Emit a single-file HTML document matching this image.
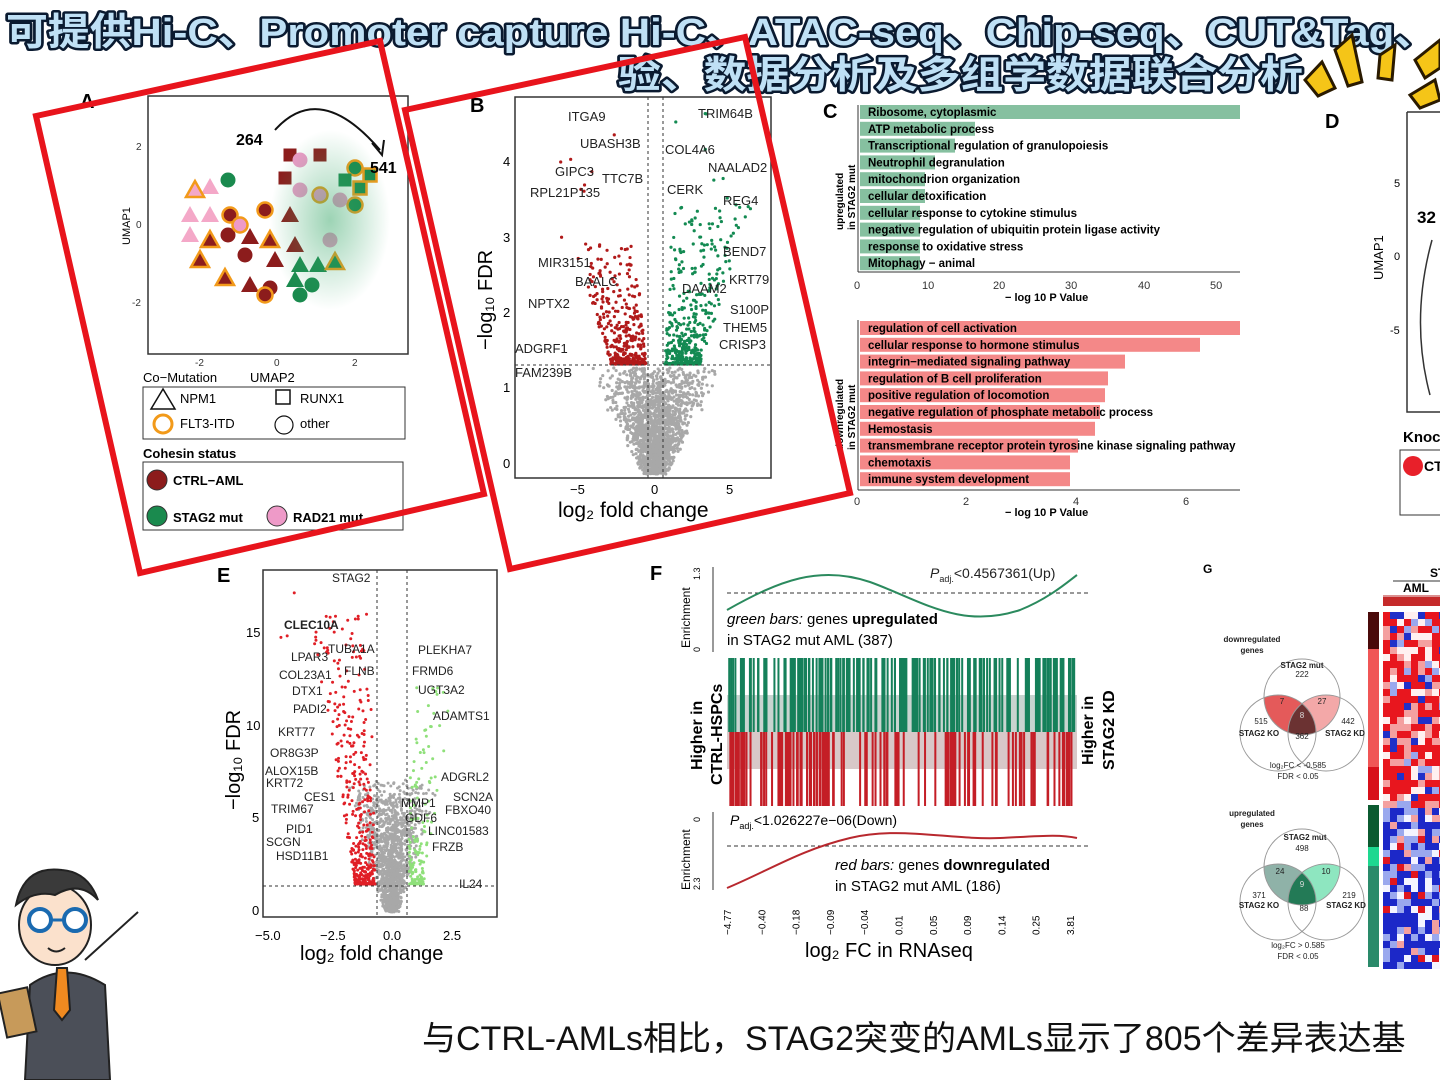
<!DOCTYPE html>
<html><head><meta charset="utf-8">
<style>
html,body{margin:0;padding:0;background:#fff;}
body{width:1440px;height:1080px;overflow:hidden;position:relative;font-family:"Liberation Sans","Noto Sans CJK SC",sans-serif;}
svg{position:absolute;left:0;top:0;}
</style></head><body>
<svg id="s" width="1440" height="1080" viewBox="0 0 1440 1080" xmlns="http://www.w3.org/2000/svg" font-family="Liberation Sans, Noto Sans CJK SC, sans-serif">
<defs>
<radialGradient id="gg" cx="0.5" cy="0.5" r="0.5"><stop offset="0" stop-color="#3aa86a" stop-opacity="0.5"/><stop offset="1" stop-color="#3aa86a" stop-opacity="0"/></radialGradient>
<clipPath id="m1"><circle cx="1302" cy="697" r="38"/></clipPath>
<clipPath id="ko1"><circle cx="1278" cy="733" r="38"/></clipPath>
<clipPath id="m2"><circle cx="1302" cy="867" r="38"/></clipPath>
<clipPath id="ko2"><circle cx="1278" cy="902" r="38"/></clipPath>
</defs>
<g id="pts"></g>

<!-- Panel A -->
<text x="80" y="108" font-size="20" font-weight="bold">A</text>
<rect x="148" y="96" width="260" height="258" fill="none" stroke="#333" stroke-width="1.5"/>
<ellipse cx="330" cy="220" rx="60" ry="90" fill="url(#gg)"/>
<path d="M275 130 Q320 80 380 150" fill="none" stroke="#111" stroke-width="2"/>
<path d="M372 143 L382 155 L384 140" fill="none" stroke="#111" stroke-width="2"/>
<text x="236" y="145" font-size="16" font-weight="bold">264</text>
<text x="370" y="173" font-size="16" font-weight="bold">541</text>
<text x="130" y="245" font-size="11" transform="rotate(-90 130 245)">UMAP1</text>
<g font-size="10" fill="#333"><text x="136" y="150">2</text><text x="136" y="228">0</text><text x="132" y="306">-2</text>
<text x="195" y="366">-2</text><text x="274" y="366">0</text><text x="352" y="366">2</text></g>
<text x="143" y="382" font-size="13">Co−Mutation</text><text x="250" y="382" font-size="13">UMAP2</text>
<rect x="143" y="387" width="262" height="52" fill="none" stroke="#333"/>
<polygon points="163,389 151,409 175,409" fill="none" stroke="#111" stroke-width="1.5"/>
<text x="180" y="403" font-size="13">NPM1</text>
<rect x="276" y="390" width="14" height="14" fill="none" stroke="#111" stroke-width="1.5"/><text x="300" y="403" font-size="13">RUNX1</text>
<circle cx="163" cy="424" r="9" fill="none" stroke="#f29a1a" stroke-width="3"/><text x="180" y="428" font-size="13">FLT3-ITD</text>
<circle cx="284" cy="425" r="9" fill="none" stroke="#111" stroke-width="1.2"/><text x="300" y="428" font-size="13">other</text>
<text x="143" y="458" font-size="13" font-weight="bold">Cohesin status</text>
<rect x="143" y="462" width="260" height="68" fill="none" stroke="#333"/>
<circle cx="157" cy="480" r="10" fill="#8c1c1c" stroke="#333"/><text x="173" y="485" font-size="13" font-weight="bold">CTRL−AML</text>
<circle cx="157" cy="516" r="10" fill="#1a8a4e" stroke="#333"/><text x="173" y="522" font-size="13" font-weight="bold">STAG2 mut</text>
<circle cx="277" cy="516" r="10" fill="#ee9ac8" stroke="#333"/><text x="293" y="522" font-size="13" font-weight="bold">RAD21 mut</text>

<!-- Panel B -->
<text x="470" y="112" font-size="20" font-weight="bold">B</text>
<rect x="515" y="97" width="256" height="381" fill="none" stroke="#333" stroke-width="1.5"/>
<line x1="648" y1="97" x2="648" y2="478" stroke="#333" stroke-dasharray="3,3"/>
<line x1="663" y1="97" x2="663" y2="478" stroke="#333" stroke-dasharray="3,3"/>
<line x1="515" y1="365" x2="771" y2="365" stroke="#333" stroke-dasharray="3,3"/>
<g font-size="13" fill="#222">
<text x="568" y="121">ITGA9</text><text x="698" y="118">TRIM64B</text><text x="580" y="148">UBASH3B</text><text x="665" y="154">COL4A6</text>
<text x="555" y="176">GIPC3</text><text x="708" y="172">NAALAD2</text><text x="602" y="183">TTC7B</text><text x="530" y="197">RPL21P135</text>
<text x="667" y="194">CERK</text><text x="723" y="205">REG4</text><text x="723" y="256">BEND7</text><text x="538" y="267">MIR3151</text>
<text x="575" y="286">BAALC</text><text x="729" y="284">KRT79</text><text x="682" y="293">DAAM2</text><text x="528" y="308">NPTX2</text>
<text x="730" y="314">S100P</text><text x="723" y="332">THEM5</text><text x="719" y="349">CRISP3</text><text x="515" y="353">ADGRF1</text><text x="515" y="377">FAM239B</text>
</g>
<g font-size="13"><text x="503" y="166">4</text><text x="503" y="242">3</text><text x="503" y="317">2</text><text x="503" y="392">1</text><text x="503" y="468">0</text>
<text x="570" y="494">−5</text><text x="651" y="494">0</text><text x="726" y="494">5</text></g>
<text x="492" y="350" font-size="20" transform="rotate(-90 492 350)">−log₁₀ FDR</text>
<text x="558" y="517" font-size="21">log₂ fold change</text>

<!-- Panel C -->
<text x="823" y="118" font-size="20" font-weight="bold">C</text>
<g id="cbars"></g>
<line x1="858" y1="105" x2="858" y2="272" stroke="#333"/><line x1="858" y1="272" x2="1240" y2="272" stroke="#333"/>
<line x1="858" y1="320" x2="858" y2="490" stroke="#333"/><line x1="858" y1="490" x2="1240" y2="490" stroke="#333"/>
<g font-size="11" fill="#333"><text x="854" y="289">0</text><text x="922" y="289">10</text><text x="993" y="289">20</text><text x="1065" y="289">30</text><text x="1138" y="289">40</text><text x="1210" y="289">50</text>
<text x="854" y="505">0</text><text x="963" y="505">2</text><text x="1073" y="505">4</text><text x="1183" y="505">6</text></g>
<text x="1005" y="301" font-size="11" font-weight="bold">− log 10 P Value</text>
<text x="1005" y="516" font-size="11" font-weight="bold">− log 10 P Value</text>
<text x="843" y="230" font-size="10" font-weight="bold" transform="rotate(-90 843 230)">upregulated</text>
<text x="855" y="230" font-size="10" font-weight="bold" transform="rotate(-90 855 230)">in STAG2 mut</text>
<text x="843" y="450" font-size="10" font-weight="bold" transform="rotate(-90 843 450)">downregulated</text>
<text x="855" y="450" font-size="10" font-weight="bold" transform="rotate(-90 855 450)">in STAG2 mut</text>

<!-- Panel D -->
<text x="1325" y="128" font-size="20" font-weight="bold">D</text>
<path d="M1407 112 L1440 112 M1407 112 L1407 412 L1440 412" fill="none" stroke="#333" stroke-width="1.5"/>
<text x="1383" y="280" font-size="13" transform="rotate(-90 1383 280)">UMAP1</text>
<g font-size="11"><text x="1394" y="187">5</text><text x="1394" y="260">0</text><text x="1390" y="334">-5</text></g>
<text x="1417" y="223" font-size="17" font-weight="bold">32</text>
<path d="M1432 240 Q1410 320 1430 395" fill="none" stroke="#333" stroke-width="1.5"/>
<text x="1403" y="442" font-size="15" font-weight="bold">Knoc</text>
<rect x="1400" y="450" width="45" height="65" fill="none" stroke="#333"/>
<circle cx="1413" cy="466" r="10" fill="#e8202a"/><text x="1424" y="471" font-size="14" font-weight="bold">CT</text>

<!-- Panel E -->
<text x="217" y="582" font-size="20" font-weight="bold">E</text>
<rect x="263" y="570" width="234" height="347" fill="none" stroke="#333" stroke-width="1.5"/>
<line x1="377" y1="570" x2="377" y2="917" stroke="#333" stroke-dasharray="3,3"/>
<line x1="407" y1="570" x2="407" y2="917" stroke="#333" stroke-dasharray="3,3"/>
<line x1="263" y1="886" x2="497" y2="886" stroke="#333" stroke-dasharray="3,3"/>
<g font-size="12" fill="#222">
<text x="332" y="582">STAG2</text><text x="284" y="629" font-weight="bold">CLEC10A</text><text x="328" y="653">TUBA1A</text><text x="418" y="654">PLEKHA7</text>
<text x="291" y="661">LPAR3</text><text x="344" y="675">FLNB</text><text x="412" y="675">FRMD6</text><text x="279" y="679">COL23A1</text>
<text x="418" y="694">UGT3A2</text><text x="292" y="695">DTX1</text><text x="293" y="713">PADI2</text><text x="433" y="720">ADAMTS1</text>
<text x="278" y="736">KRT77</text><text x="270" y="757">OR8G3P</text><text x="265" y="775">ALOX15B</text><text x="441" y="781">ADGRL2</text><text x="266" y="787">KRT72</text>
<text x="304" y="801">CES1</text><text x="453" y="801">SCN2A</text><text x="401" y="807">MMP1</text><text x="445" y="814">FBXO40</text>
<text x="271" y="813">TRIM67</text><text x="405" y="822">GDF6</text><text x="428" y="835">LINC01583</text><text x="286" y="833">PID1</text>
<text x="266" y="846">SCGN</text><text x="432" y="851">FRZB</text><text x="276" y="860">HSD11B1</text><text x="459" y="888">IL24</text></g>
<g font-size="13"><text x="246" y="637">15</text><text x="246" y="730">10</text><text x="252" y="822">5</text><text x="252" y="915">0</text>
<text x="255" y="940">−5.0</text><text x="320" y="940">−2.5</text><text x="383" y="940">0.0</text><text x="443" y="940">2.5</text></g>
<text x="240" y="810" font-size="20" transform="rotate(-90 240 810)">−log₁₀ FDR</text>
<text x="300" y="960" font-size="20">log₂ fold change</text>

<!-- Panel F -->
<text x="650" y="580" font-size="20" font-weight="bold">F</text>
<line x1="713" y1="567" x2="713" y2="652" stroke="#333"/>
<line x1="727" y1="593" x2="1090" y2="593" stroke="#333" stroke-dasharray="4,3"/>
<path d="M727 610 C780 580 820 565 870 582 C920 600 960 630 1020 610 C1050 598 1070 580 1077 575" fill="none" stroke="#2b8a5e" stroke-width="2"/>
<text x="930" y="578" font-size="14" fill="#222"><tspan font-style="italic">P</tspan><tspan font-size="9" dy="4">adj.</tspan><tspan dy="-4">&lt;0.4567361(Up)</tspan></text>
<text x="727" y="624" font-size="15"><tspan font-style="italic">green bars:</tspan> genes <tspan font-weight="bold">upregulated</tspan></text>
<text x="727" y="645" font-size="15">in STAG2 mut AML (387)</text>
<text x="690" y="648" font-size="12" transform="rotate(-90 690 648)">Enrichment</text>
<text x="700" y="652" font-size="9" transform="rotate(-90 700 652)">0</text><text x="700" y="580" font-size="9" transform="rotate(-90 700 580)">1.3</text>
<rect x="727" y="695" width="350" height="37" fill="#c8d4d0"/>
<rect x="727" y="732" width="350" height="37" fill="#d8c8c8"/>
<g id="fbars"></g>
<text x="722" y="785" font-size="16" font-weight="bold" transform="rotate(-90 722 785)">CTRL-HSPCs</text>
<text x="702" y="770" font-size="16" font-weight="bold" transform="rotate(-90 702 770)">Higher in</text>
<text x="1093" y="765" font-size="16" font-weight="bold" transform="rotate(-90 1093 765)">Higher in</text>
<text x="1114" y="770" font-size="16" font-weight="bold" transform="rotate(-90 1114 770)">STAG2 KD</text>
<line x1="713" y1="812" x2="713" y2="890" stroke="#333"/>
<line x1="727" y1="846" x2="1090" y2="846" stroke="#333" stroke-dasharray="4,3"/>
<path d="M727 888 C770 870 800 850 850 838 C900 826 950 840 1000 838 C1040 836 1060 834 1077 838" fill="none" stroke="#b8282e" stroke-width="2"/>
<text x="730" y="825" font-size="14"><tspan font-style="italic">P</tspan><tspan font-size="9" dy="4">adj.</tspan><tspan dy="-4">&lt;1.026227e−06(Down)</tspan></text>
<text x="835" y="870" font-size="15"><tspan font-style="italic">red bars:</tspan> genes <tspan font-weight="bold">downregulated</tspan></text>
<text x="835" y="891" font-size="15">in STAG2 mut AML (186)</text>
<text x="690" y="890" font-size="12" transform="rotate(-90 690 890)">Enrichment</text>
<text x="700" y="822" font-size="9" transform="rotate(-90 700 822)">0</text><text x="700" y="890" font-size="9" transform="rotate(-90 700 890)">2.3</text>
<g id="fticks" font-size="10"></g>
<text x="805" y="957" font-size="20">log₂ FC in RNAseq</text>

<!-- Panel G -->
<text x="1203" y="573" font-size="12" font-weight="bold">G</text>
<text x="1430" y="577" font-size="12" font-weight="bold">STA</text>
<line x1="1393" y1="581" x2="1440" y2="581" stroke="#333"/>
<text x="1403" y="592" font-size="12" font-weight="bold">AML</text>
<line x1="1383" y1="596" x2="1440" y2="596" stroke="#b82222"/>
<rect x="1383" y="597" width="57" height="9" fill="#c52a2a"/>
<g id="heat"></g>
<rect x="1368" y="612" width="11" height="37" fill="#4a0a0a"/><rect x="1368" y="649" width="11" height="118" fill="#f05656"/><rect x="1368" y="767" width="11" height="33" fill="#d8101a"/>
<rect x="1368" y="805" width="11" height="42" fill="#0b5a30"/><rect x="1368" y="847" width="11" height="19" fill="#1ed890"/><rect x="1368" y="866" width="11" height="101" fill="#2a8a6a"/>
<g font-size="8" font-weight="bold" fill="#222" text-anchor="middle">
<text x="1252" y="642">downregulated</text><text x="1252" y="653">genes</text>
<text x="1252" y="816">upregulated</text><text x="1252" y="827">genes</text></g>
<g clip-path="url(#m1)"><circle cx="1278" cy="733" r="38" fill="#e45a5a"/><circle cx="1326" cy="733" r="38" fill="#f3a8a8"/>
<g clip-path="url(#ko1)"><circle cx="1326" cy="733" r="38" fill="#6b3232"/></g></g>
<g clip-path="url(#m2)"><circle cx="1278" cy="902" r="38" fill="#8fb2a8"/><circle cx="1326" cy="902" r="38" fill="#8ee6c0"/>
<g clip-path="url(#ko2)"><circle cx="1326" cy="902" r="38" fill="#237a56"/></g></g>
<g fill="none" stroke="#999">
<circle cx="1302" cy="697" r="38"/><circle cx="1278" cy="733" r="38"/><circle cx="1326" cy="733" r="38"/>
<circle cx="1302" cy="867" r="38"/><circle cx="1278" cy="902" r="38"/><circle cx="1326" cy="902" r="38"/></g>
<g font-size="8" text-anchor="middle" fill="#222">
<text x="1302" y="668" font-weight="bold">STAG2 mut</text><text x="1302" y="677">222</text><text x="1282" y="704">7</text><text x="1322" y="704">27</text><text x="1302" y="718" fill="#ddd">8</text>
<text x="1261" y="724">515</text><text x="1348" y="724">442</text><text x="1259" y="736" font-weight="bold">STAG2 KO</text><text x="1345" y="736" font-weight="bold">STAG2 KD</text><text x="1302" y="739">362</text>
<text x="1298" y="768">log₂FC &lt; -0.585</text><text x="1298" y="779">FDR &lt; 0.05</text>
<text x="1305" y="840" font-weight="bold">STAG2 mut</text><text x="1302" y="851">498</text><text x="1280" y="874">24</text><text x="1326" y="874">10</text><text x="1302" y="887" fill="#ddd">9</text>
<text x="1259" y="898">371</text><text x="1349" y="898">219</text><text x="1259" y="908" font-weight="bold">STAG2 KO</text><text x="1346" y="908" font-weight="bold">STAG2 KD</text><text x="1304" y="911">88</text>
<text x="1298" y="948">log₂FC &gt; 0.585</text><text x="1298" y="959">FDR &lt; 0.05</text></g>

<!-- Title -->
<g font-size="38" font-weight="bold" fill="#bfe0f5" stroke="#0a1a30" stroke-width="5" paint-order="stroke" stroke-linejoin="round">
<text x="6" y="45" textLength="1430" lengthAdjust="spacingAndGlyphs">可提供Hi-C、Promoter capture Hi-C、ATAC-seq、Chip-seq、CUT&amp;Tag、</text>
<text x="618" y="88" textLength="685" lengthAdjust="spacingAndGlyphs">验、数据分析及多组学数据联合分析</text></g>
<g fill="#f5c518" stroke="#2a1a00" stroke-width="3">
<polygon points="1305,80 1322,62 1335,88 1318,96"/><polygon points="1335,50 1352,35 1362,82 1348,86"/><polygon points="1380,55 1395,45 1392,80 1378,78"/><polygon points="1410,95 1435,80 1440,100 1420,108"/><polygon points="1415,60 1440,40 1440,68 1425,78"/></g>

<!-- Red frames -->
<polygon points="36,116 380,41 484,494 140,573" fill="none" stroke="#e8141c" stroke-width="6"/>
<polygon points="405,110 745,37 850,493 510,569" fill="none" stroke="#e8141c" stroke-width="6"/>

<!-- Bottom text -->
<text x="422" y="1050" font-size="34" fill="#111">与CTRL-AMLs相比，STAG2突变的AMLs显示了805个差异表达基</text>

<!-- Cartoon -->
<g stroke="#222" stroke-width="2">
<line x1="85" y1="960" x2="138" y2="912" />
<path d="M25 1080 L30 985 Q65 960 105 985 L110 1080 Z" fill="#4b4f58"/>
<polygon points="57,968 67,968 70,1010 62,1020 54,1010" fill="#f08a20"/>
<rect x="2" y="990" width="30" height="45" fill="#c79a5a" transform="rotate(-12 17 1012)"/>
<ellipse cx="55" cy="925" rx="36" ry="40" fill="#fbe1cc"/>
<path d="M16 905 Q24 865 62 870 Q88 872 98 900 Q80 880 55 895 Q35 890 16 905 Z" fill="#3a3a3a"/>
<circle cx="40" cy="920" r="11" fill="#fff" stroke="#1a6ab0" stroke-width="4"/>
<circle cx="75" cy="920" r="11" fill="#fff" stroke="#1a6ab0" stroke-width="4"/>
<line x1="51" y1="920" x2="64" y2="920" stroke="#1a6ab0" stroke-width="3"/>
<path d="M48 948 Q56 955 65 948" fill="none"/>
</g>
</svg>
<script>
var s=7;function r(){s=(s*16807)%2147483647;return s/2147483647;}
var NS="http://www.w3.org/2000/svg",P=document.getElementById('pts');
function c(x,y,rad,f){var e=document.createElementNS(NS,'circle');e.setAttribute('cx',x);e.setAttribute('cy',y);e.setAttribute('r',rad);e.setAttribute('fill',f);P.appendChild(e);}
// B volcano gray
for(var i=0;i<1800;i++){var y=368+Math.pow(r(),0.8)*106;var hw=12+(475-y)*0.55;var x=655+(r()+r()-1)*hw;c(x,y,1.6,'#a8a8a8');}
// B red
for(var i=0;i<420;i++){var t=Math.pow(r(),3);var y=364-t*120;var x=646-(r()*(35+t*30))-t*10;c(x,y,1.6,'#b11a1a');}
for(var i=0;i<8;i++){c(560+r()*85,120+r()*120,1.6,'#b11a1a');}
// B green
for(var i=0;i<480;i++){var t=Math.pow(r(),3);var y=364-t*160;var x=665+r()*(35+t*45)+t*8;c(x,y,1.6,'#138a52');}
for(var i=0;i<8;i++){c(668+r()*85,110+r()*100,1.6,'#138a52');}
// E gray
for(var i=0;i<1400;i++){var y=780+Math.pow(r(),0.7)*132;var hw=8+(912-y)*0.32;var x=392+(r()+r()-1)*hw;c(x,y,1.5,'#a8a8a8');}
// E red
for(var i=0;i<420;i++){var t=Math.pow(r(),2.6);var y=884-t*270;var x=375-r()*(20+t*40)-t*5;c(x,y,1.5,'#e01f26');}
for(var i=0;i<6;i++){c(275+r()*80,590+r()*60,1.5,'#e01f26');}
// E green
for(var i=0;i<160;i++){var t=Math.pow(r(),2.6);var y=884-t*200;var x=409+r()*(15+t*30);c(x,y,1.5,'#8fe07a');}
// A points
var sh=[[290,155,'#8c1c1c','s'],[320,155,'#8c1c1c','s'],[300,160,'#ee9ac8','c'],[285,178,'#8c1c1c','s'],[300,190,'#ee9ac8','c'],[210,187,'#f4a8c8','t'],[195,190,'#f4a8c8','t'],[228,180,'#1a8a4e','c'],[355,168,'#1a8a4e','c'],[345,180,'#1a8a4e','s'],[360,188,'#1a8a4e','s'],[370,175,'#1a8a4e','s'],[355,205,'#1a8a4e','c'],[190,215,'#f4a8c8','t'],[210,215,'#f4a8c8','t'],[230,215,'#8c1c1c','c'],[265,210,'#8c1c1c','c'],[290,215,'#8c1c1c','t'],[320,195,'#ee9ac8','c'],[340,200,'#ee9ac8','c'],[190,235,'#f4a8c8','t'],[210,240,'#8c1c1c','t'],[228,235,'#8c1c1c','c'],[250,237,'#8c1c1c','t'],[270,240,'#8c1c1c','t'],[295,245,'#8c1c1c','t'],[200,260,'#8c1c1c','t'],[245,255,'#8c1c1c','c'],[275,260,'#8c1c1c','t'],[300,265,'#1a8a4e','t'],[318,265,'#1a8a4e','t'],[335,262,'#1a8a4e','t'],[225,278,'#8c1c1c','t'],[250,285,'#8c1c1c','t'],[270,288,'#8c1c1c','c'],[295,280,'#1a8a4e','t'],[312,285,'#1a8a4e','c'],[265,295,'#8c1c1c','c'],[300,295,'#1a8a4e','c'],[330,240,'#ee9ac8','c'],[240,225,'#ee9ac8','c']];
sh.forEach(function(p){var e;if(p[3]=='c'){e=document.createElementNS(NS,'circle');e.setAttribute('cx',p[0]);e.setAttribute('cy',p[1]);e.setAttribute('r',7.5);}
 else if(p[3]=='s'){e=document.createElementNS(NS,'rect');e.setAttribute('x',p[0]-6.5);e.setAttribute('y',p[1]-6.5);e.setAttribute('width',13);e.setAttribute('height',13);}
 else{e=document.createElementNS(NS,'polygon');e.setAttribute('points',(p[0])+','+(p[1]-9)+' '+(p[0]-9)+','+(p[1]+7)+' '+(p[0]+9)+','+(p[1]+7));}
 e.setAttribute('fill',p[2]);if(r()<0.4){e.setAttribute('stroke','#f29a1a');e.setAttribute('stroke-width',2.5);}P.appendChild(e);});
// C bars
var C=document.getElementById('cbars');
function bar(x,y,w,h,f,t){var e=document.createElementNS(NS,'rect');e.setAttribute('x',x);e.setAttribute('y',y);e.setAttribute('width',w);e.setAttribute('height',h);e.setAttribute('fill',f);C.appendChild(e);
 var tx=document.createElementNS(NS,'text');tx.setAttribute('x',x+8);tx.setAttribute('y',y+h-3);tx.setAttribute('font-size','11.5');tx.setAttribute('font-weight','bold');tx.textContent=t;C.appendChild(tx);}
var up=[[1240,'Ribosome, cytoplasmic'],[975,'ATP metabolic process'],[955,'Transcriptional regulation of granulopoiesis'],[935,'Neutrophil degranulation'],[925,'mitochondrion organization'],[925,'cellular detoxification'],[920,'cellular response to cytokine stimulus'],[920,'negative regulation of ubiquitin protein ligase activity'],[920,'response to oxidative stress'],[920,'Mitophagy − animal']];
up.forEach(function(b,i){bar(860,105+i*16.8,b[0]-860,14,'#86c0a0',b[1]);});
var dn=[[1240,'regulation of cell activation'],[1200,'cellular response to hormone stimulus'],[1125,'integrin−mediated signaling pathway'],[1108,'regulation of B cell proliferation'],[1105,'positive regulation of locomotion'],[1100,'negative regulation of phosphate metabolic process'],[1095,'Hemostasis'],[1078,'transmembrane receptor protein tyrosine kinase signaling pathway'],[1070,'chemotaxis'],[1070,'immune system development']];
dn.forEach(function(b,i){bar(860,321+i*16.8,b[0]-860,14,'#f48888',b[1]);});
// F bars
var F=document.getElementById('fbars');
for(var i=0;i<170;i++){var x=727+r()*350;var e=document.createElementNS(NS,'rect');e.setAttribute('x',x);e.setAttribute('y',658);e.setAttribute('width',2);e.setAttribute('height',74);e.setAttribute('fill','#15805a');F.appendChild(e);}
for(var i=0;i<120;i++){var x=727+Math.pow(r(),1.3)*350;var e=document.createElementNS(NS,'rect');e.setAttribute('x',x);e.setAttribute('y',732);e.setAttribute('width',2);e.setAttribute('height',74);e.setAttribute('fill','#c41e26');F.appendChild(e);}
var T=document.getElementById('fticks'),lab=['−4.77','−0.40','−0.18','−0.09','−0.04','0.01','0.05','0.09','0.14','0.25','3.81'];
lab.forEach(function(l,i){var x=731+i*34.3;var t=document.createElementNS(NS,'text');t.setAttribute('x',x);t.setAttribute('y',935);t.setAttribute('transform','rotate(-90 '+x+' 935)');t.textContent=l;T.appendChild(t);});
// heatmap
var H=document.getElementById('heat');
for(var yy=612;yy<967;yy+=7)for(var xx=1383;xx<1440;xx+=7){var up2=yy>803;var v=r();var col;
 if(!up2)col=v<0.45?'#e8161e':v<0.7?'#f4a0a0':v<0.85?'#fff0f0':v<0.93?'#9aa8ee':'#2030c8';
 else col=v<0.45?'#1c28c8':v<0.7?'#9aa8ee':v<0.85?'#f4f4ff':v<0.93?'#f4a0a0':'#e0161e';
 var e=document.createElementNS(NS,'rect');e.setAttribute('x',xx);e.setAttribute('y',yy);e.setAttribute('width',7);e.setAttribute('height',7);e.setAttribute('fill',col);H.appendChild(e);}
</script>
</body></html>
